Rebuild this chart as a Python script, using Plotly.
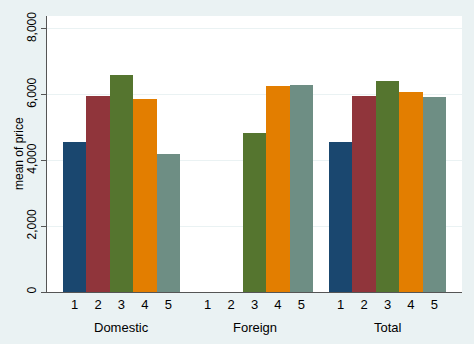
import plotly.graph_objects as go

groups = ["Domestic", "Foreign", "Total"]
rep_levels = ["1", "2", "3", "4", "5"]
domestic = [4564.5, 5967.625, 6607.074, 5881.556, 4204.5]
foreign = [None, None, 4828.667, 6261.444, 6292.667]
total = [4564.5, 5967.625, 6429.233, 6071.5, 5913.0]
series = [domestic, foreign, total]
colors = ["#1A476F", "#90353B", "#55752F", "#E37E00", "#6E8E84"]
yticks = [0, 2000, 4000, 6000, 8000]

gap = 0.68
pad = 0.68
fig = go.Figure()
tickvals, ticktext = [], []
group_centers = []
for g, vals in enumerate(series):
    start = pad + g * (5 + gap)
    group_centers.append(start + 2.5)
    for k in range(5):
        tickvals.append(start + k + 0.5)
        ticktext.append(rep_levels[k])

for k in range(5):
    xs, ys = [], []
    for g, vals in enumerate(series):
        start = pad + g * (5 + gap)
        xs.append(start + k + 0.5)
        ys.append(vals[k])
    fig.add_trace(go.Bar(x=xs, y=ys, width=1.0, marker=dict(color=colors[k], line=dict(width=0)),
                         name=rep_levels[k], showlegend=False))

xmax = pad * 2 + 15 + gap * 2
for g, name in enumerate(groups):
    fig.add_annotation(x=group_centers[g], y=0, xref="x", yref="paper", yanchor="middle",
                       yshift=-35, text=name, showarrow=False,
                       font=dict(size=13, color="#000000"))

fig.add_annotation(x=0, y=0.5, xref="paper", yref="paper", xanchor="center", yanchor="middle",
                   xshift=-28, text="mean of price", textangle=-90, showarrow=False,
                   font=dict(size=12, color="#000000"))

fig.update_layout(
    width=474, height=344,
    margin=dict(l=47, r=12, t=12, b=52),
    paper_bgcolor="#EAF2F3", plot_bgcolor="#FFFFFF",
    font=dict(family="Liberation Sans, Arial, sans-serif", size=13, color="#000000"),
    bargap=0,
    xaxis=dict(range=[0, xmax], tickvals=tickvals, ticktext=ticktext, showgrid=False,
               showline=True, linecolor="#555555", linewidth=1, ticks="", zeroline=False,
               tickfont=dict(size=13)),
    yaxis=dict(range=[0, 8390], tickvals=yticks, tickformat=",", tickangle=-90,
               showgrid=True, gridcolor="#EAF2F3", gridwidth=1, zeroline=False,
               showline=True, linecolor="#555555", linewidth=1, ticks="outside", ticklen=5,
               tickcolor="#555555", tickfont=dict(size=12)),
)

fig.write_html("out.html")
